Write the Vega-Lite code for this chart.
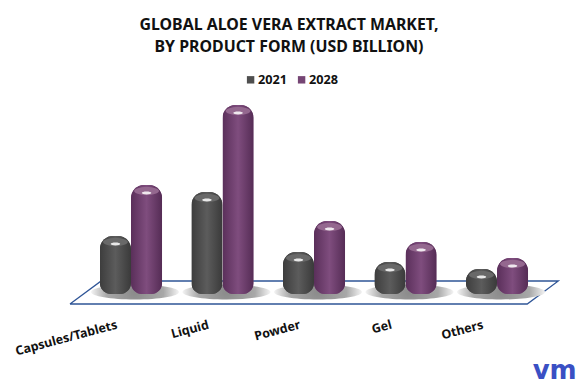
{
"$schema":"https://vega.github.io/schema/vega-lite/v6.json",
"width":457.5,"height":194,
"autosize":"none",
"padding":{"left":85.25,"top":100,"right":36,"bottom":93},
"background":"white",
"config":{"view":{"stroke":null},"font":"Noto Sans"},
"title":{"text":["GLOBAL ALOE VERA EXTRACT MARKET,","BY PRODUCT FORM (USD BILLION)"],"anchor":"middle","dx":-25,"offset":18,"fontSize":15.9,"fontWeight":"bold","font":"Noto Sans","color":"#111111","lineHeight":22.5},
"datasets":{
"market":[
{"form":"Capsules/Tablets","year":"2021","value":0.58},
{"form":"Capsules/Tablets","year":"2028","value":1.09},
{"form":"Liquid","year":"2021","value":1.02},
{"form":"Liquid","year":"2028","value":1.89},
{"form":"Powder","year":"2021","value":0.42},
{"form":"Powder","year":"2028","value":0.73},
{"form":"Gel","year":"2021","value":0.32},
{"form":"Gel","year":"2028","value":0.52},
{"form":"Others","year":"2021","value":0.25},
{"form":"Others","year":"2028","value":0.36}],
"floor":[
{"u":-0.167,"level":-0.10,"o":0},
{"u":0.174,"level":0.13,"o":1},
{"u":5.17,"level":0.13,"o":2},
{"u":4.83,"level":-0.10,"o":3},
{"u":-0.167,"level":-0.10,"o":4}]
},
"resolve":{"scale":{"x":"independent"}},
"layer":[
{"layer":[
{"data":{"name":"floor"},"mark":{"type":"line","color":"#2f5597","strokeWidth":1.3,"clip":false},
"encoding":{"x":{"field":"u","type":"quantitative","scale":{"domain":[0,5],"nice":false,"zero":false},"axis":null},
"y":{"field":"level","type":"quantitative","scale":{"domain":[0,1.94],"nice":false,"clamp":false},"axis":null},
"order":{"field":"o","type":"ordinal"}}},
{"data":{"values":[{"u":5.13,"level":-0.77,"logo":"vm"}]},"mark":{"type":"text","font":"DejaVu Sans","fontSize":26,"fontWeight":"bold","color":"#3a50c4","align":"center","baseline":"middle","clip":false},
"encoding":{"x":{"field":"u","type":"quantitative","axis":null},"y":{"field":"level","type":"quantitative","axis":null},"text":{"field":"logo"}}}
]},
{"encoding":{"x":{"field":"form","type":"nominal","sort":null,"scale":{"domain":["Capsules/Tablets","Liquid","Powder","Gel","Others"],"paddingInner":0.32,"paddingOuter":0.16},
"axis":{"title":null,"domain":false,"ticks":false,"labelAngle":-15,"labelAlign":"right","labelBaseline":"middle","labelOffset":-14,"labelPadding":30,"labelFontSize":12.5,"labelFontWeight":"bold","labelColor":"#111111","labelFont":"Noto Sans"}}},
"layer":[
{"data":{"name":"market"},"transform":[{"filter":"datum.year=='2021'"}],
"mark":{"type":"point","filled":true,"opacity":1,"yOffset":-2,"xOffset":4,"shape":"M -1 0 A 1 0.17 0 1 1 1 0 A 1 0.17 0 1 1 -1 0 Z","size":7744,
"fill":{"gradient":"radial","x1":0.5,"y1":0.5,"r1":0,"x2":0.5,"y2":0.5,"r2":0.5,"stops":[{"offset":0,"color":"#8a8a8a"},{"offset":0.65,"color":"#a8a8a8"},{"offset":1,"color":"#f4f4f4"}]}},
"encoding":{"y":{"datum":0,"type":"quantitative","axis":null}}},
{"data":{"name":"market"},
"mark":{"type":"bar","cornerRadiusTopLeft":13,"cornerRadiusTopRight":13,"cornerRadiusBottomLeft":11,"cornerRadiusBottomRight":11},
"encoding":{
"xOffset":{"field":"year","type":"nominal","scale":{"domain":["2021","2028"],"paddingInner":0,"paddingOuter":0}},
"y":{"field":"value","type":"quantitative","axis":null},
"fill":{"field":"year","type":"nominal",
"scale":{"domain":["2021","2028"],"range":["#4f4f4f","#754574"]},
"legend":{"title":null,"orient":"none","legendX":159,"legendY":-27,"direction":"horizontal","symbolType":"square","symbolSize":55,"labelFontSize":12.7,"labelFontWeight":"bold","labelColor":"#111111","labelFont":"Noto Sans","columnPadding":8,"labelOffset":1}}}},
{"data":{"name":"market"},"transform":[{"filter":"datum.year=='2021'"}],
"mark":{"type":"bar","cornerRadiusTopLeft":13,"cornerRadiusTopRight":13,"cornerRadiusBottomLeft":11,"cornerRadiusBottomRight":11,
"fill":{"gradient":"linear","x1":0,"y1":0,"x2":1,"y2":0,"stops":[{"offset":0,"color":"#3d3d3d"},{"offset":0.5,"color":"#5c5c5c"},{"offset":1,"color":"#3a3a3a"}]}},
"encoding":{"xOffset":{"field":"year","type":"nominal"},"y":{"field":"value","type":"quantitative"}}},
{"data":{"name":"market"},"transform":[{"filter":"datum.year=='2028'"}],
"mark":{"type":"bar","cornerRadiusTopLeft":13,"cornerRadiusTopRight":13,"cornerRadiusBottomLeft":11,"cornerRadiusBottomRight":11,
"fill":{"gradient":"linear","x1":0,"y1":0,"x2":1,"y2":0,"stops":[{"offset":0,"color":"#5a2f5a"},{"offset":0.5,"color":"#7f4d7e"},{"offset":1,"color":"#552c55"}]}},
"encoding":{"xOffset":{"field":"year","type":"nominal"},"y":{"field":"value","type":"quantitative"}}},
{"data":{"name":"market"},
"mark":{"type":"point","filled":true,"opacity":1,"yOffset":6,"shape":"M -1 0 A 1 0.32 0 1 1 1 0 A 1 0.32 0 1 1 -1 0 Z","size":620},
"encoding":{
"xOffset":{"field":"year","type":"nominal"},
"y":{"field":"value","type":"quantitative"},
"fill":{"condition":{"test":"datum.year=='2021'","value":"#696969"},"value":"#94688f"}}},
{"data":{"name":"market"},
"mark":{"type":"point","filled":true,"opacity":0.85,"yOffset":8,"shape":"M -1 0 A 1 0.3 0 1 1 1 0 A 1 0.3 0 1 1 -1 0 Z","size":90,"fill":"#ffffff"},
"encoding":{
"xOffset":{"field":"year","type":"nominal"},
"y":{"field":"value","type":"quantitative"}}}
]}
]
}
